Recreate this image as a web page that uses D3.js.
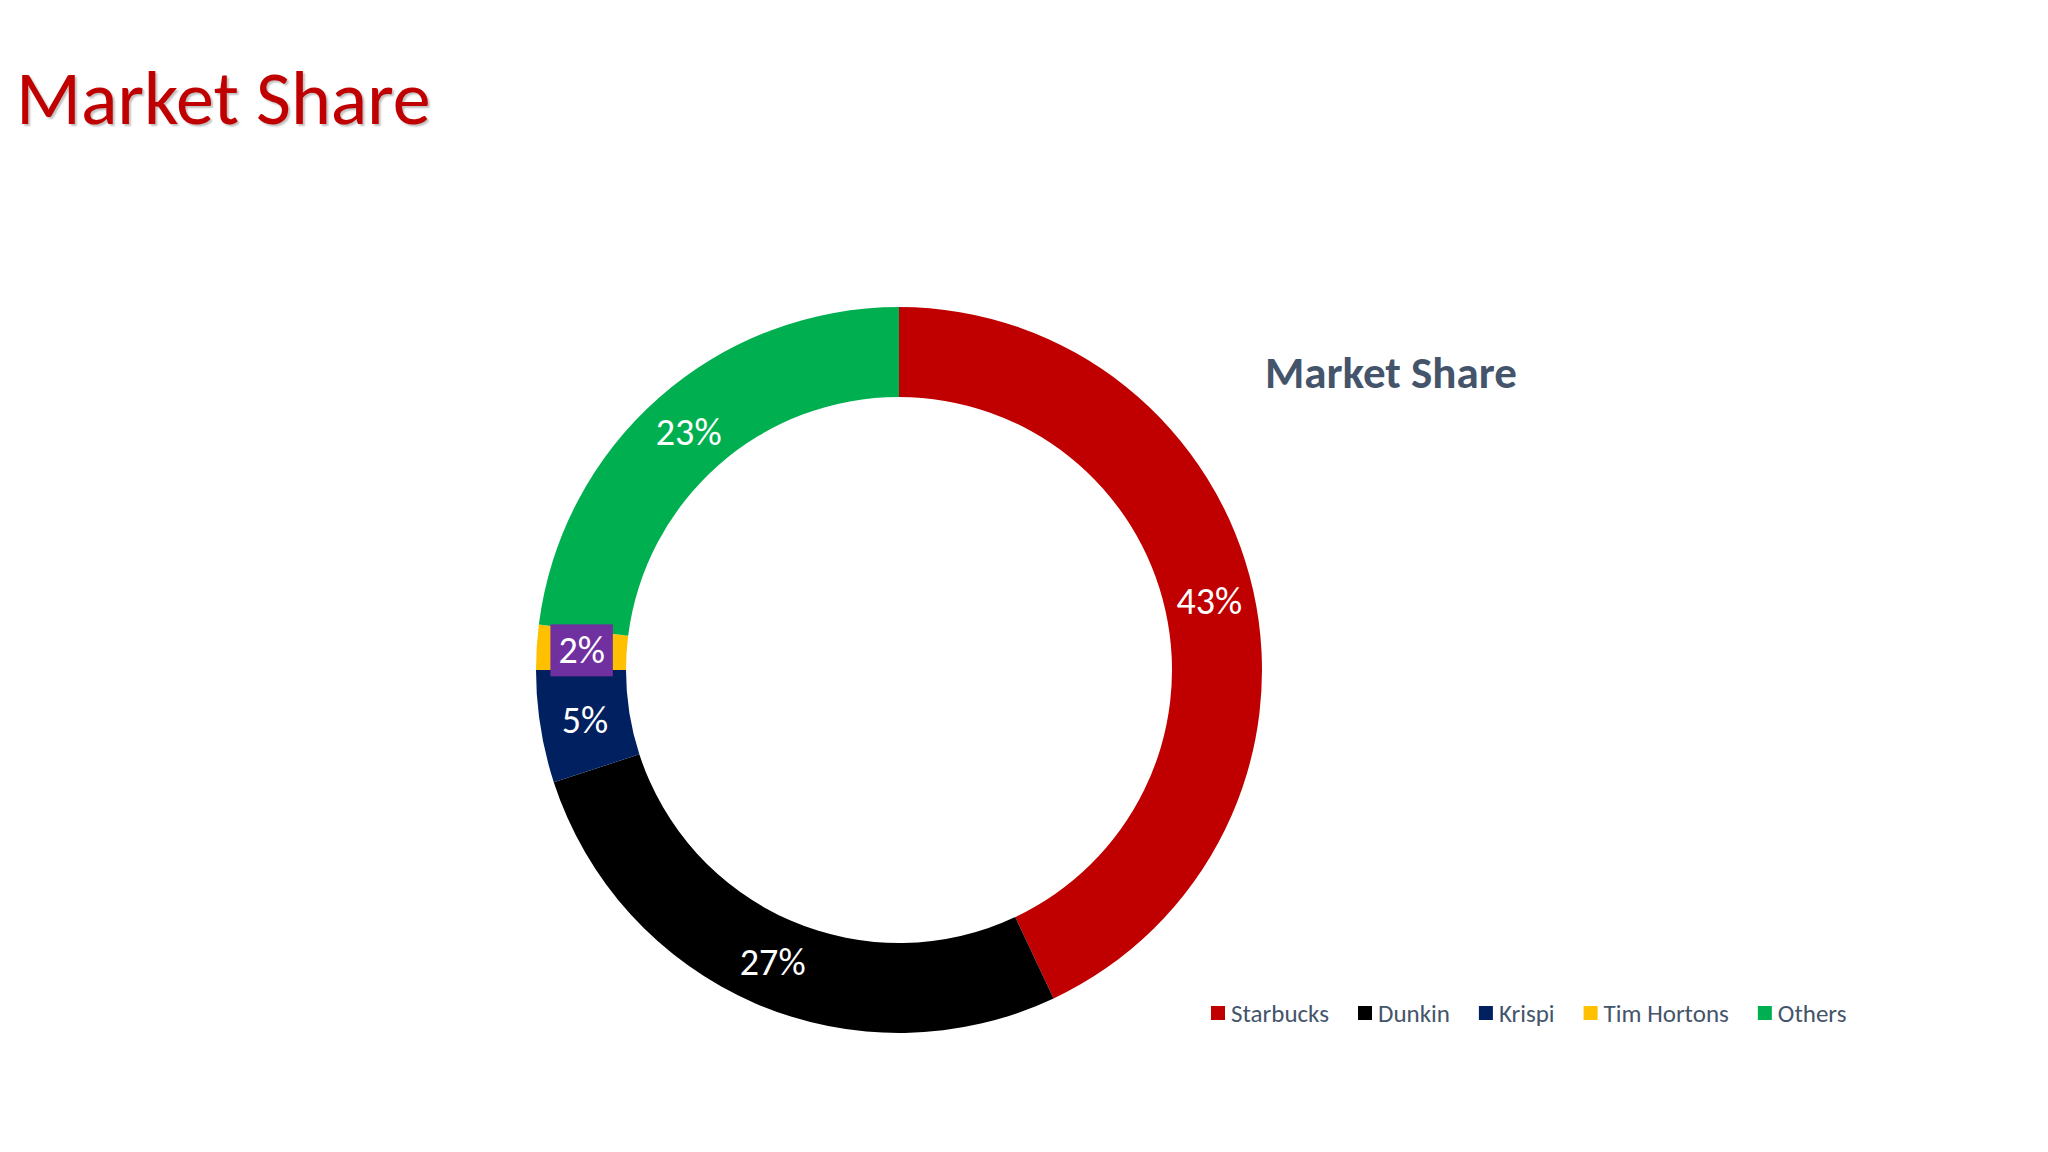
<!DOCTYPE html>
<html>
<head>
<meta charset="utf-8">
<script src="https://cdn.jsdelivr.net/npm/d3@7"></script>
<style>
  body { margin: 0; background: #fff; }
  svg { display: block; font-family: Carlito, Calibri, Lato, "Open Sans", sans-serif; }
</style>
</head>
<body>
<div id="chart"></div>
<script>
// market share data
var brands = ["Starbucks", "Dunkin", "Krispi", "Tim Hortons", "Others"];
var shares = [43, 27, 5, 2, 23];
var colors = ["#C00000", "#000000", "#002060", "#FFC000", "#00B050"];

var width = 2048, height = 1152;
var cx = 899, cy = 670, outerR = 363, innerR = 273;

var svg = d3.select("#chart").append("svg")
    .attr("width", width)
    .attr("height", height);

// slide title
svg.append("text")
    .attr("x", 16)
    .attr("y", 124)
    .attr("font-size", 76)
    .attr("fill", "#C00000")
    .style("text-shadow", "2px 2px 2px rgba(0,0,0,0.25)")
    .text("Market Share");

// chart title
svg.append("text")
    .attr("x", 1265)
    .attr("y", 388)
    .attr("font-size", 45)
    .attr("font-weight", "bold")
    .attr("fill", "#44546A")
    .text("Market Share");

var color = d3.scaleOrdinal().domain(brands).range(colors);

var pie = d3.pie().sort(null).value(function(d, i){ return shares[i]; });
var arc = d3.arc().innerRadius(innerR).outerRadius(outerR);

var g = svg.append("g").attr("transform", "translate(" + cx + "," + cy + ")");
var arcs = pie(brands);

g.selectAll("path")
    .data(arcs)
    .enter()
    .append("path")
    .attr("d", arc)
    .attr("fill", function(d){ return color(d.data); });

var labels = g.selectAll("g.lbl")
    .data(arcs)
    .enter()
    .append("g")
    .attr("class", "lbl")
    .attr("transform", function(d){ return "translate(" + arc.centroid(d) + ")"; });

labels.append("text")
    .attr("text-anchor", "middle")
    .attr("dy", "0.35em")
    .attr("font-size", 38)
    .attr("fill", "#fff")
    .text(function(d, i){ return shares[i] + "%"; });

// the small Tim Hortons label sits on a purple box
labels.filter(function(d){ return d.data == "Tim Hortons"; })
    .insert("rect", "text")
    .each(function(){
        var bb = this.parentNode.querySelector("text").getBBox();
        d3.select(this)
            .attr("x", bb.x - 8)
            .attr("y", bb.y - 3)
            .attr("width", bb.width + 16)
            .attr("height", bb.height + 6);
    })
    .attr("fill", "#7030A0");

// legend along the bottom right
var legend = svg.append("g").attr("transform", "translate(1211,1013)");
var lx = 0;
brands.forEach(function(b){
    var item = legend.append("g").attr("transform", "translate(" + lx + ",0)");
    item.append("rect")
        .attr("x", 0).attr("y", -7)
        .attr("width", 14).attr("height", 14)
        .attr("fill", color(b));
    var t = item.append("text")
        .attr("x", 20)
        .attr("dy", "0.35em")
        .attr("font-size", 25)
        .attr("fill", "#44546A")
        .text(b);
    lx += 20 + t.node().getComputedTextLength() + 29;
});
</script>
</body>
</html>
